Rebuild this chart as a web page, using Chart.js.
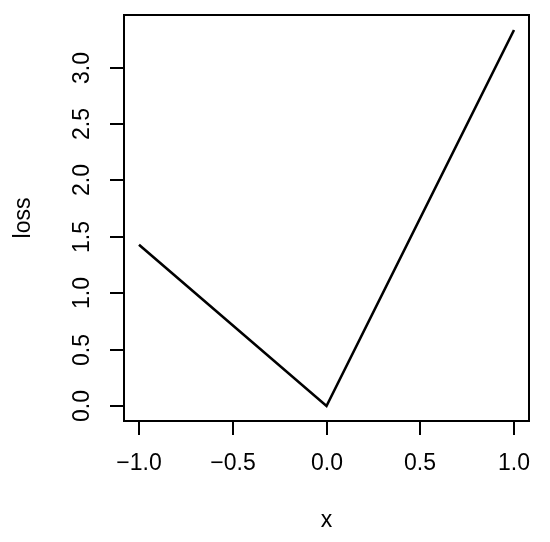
<!DOCTYPE html>
<html>
<head>
<meta charset="utf-8">
<script src="https://cdn.jsdelivr.net/npm/chart.js@4.4.0/dist/chart.umd.min.js"></script>
<style>
  html, body { margin: 0; padding: 0; background: #fff; }
  #wrap { width: 550px; height: 542px; position: relative; }
</style>
</head>
<body>
<div id="wrap"><canvas id="lossChart"></canvas></div>
<script>
// data: loss is x/0.3 above zero, -x/0.7 below
const xValues = [-1, 0, 1];
const lossValues = [1.4286, 0, 3.3333];
const xTicks = [-1, -0.5, 0, 0.5, 1];
const xTickLabels = ['\u22121.0', '\u22120.5', '0.0', '0.5', '1.0'];
const yTicks = [0, 0.5, 1, 1.5, 2, 2.5, 3];
const yTickLabels = ['0.0', '0.5', '1.0', '1.5', '2.0', '2.5', '3.0'];

const FONT = '"Liberation Sans", Arial, sans-serif';

// R style box, ticks and labels drawn on the chart's own scales
const rAxes = {
    id: 'rAxes',
    afterDraw(chart) {
        const ctx = chart.ctx;
        const a = chart.chartArea;
        const xs = chart.scales.x, ys = chart.scales.y;
        ctx.save();
        ctx.strokeStyle = '#000';
        ctx.lineWidth = 2;
        ctx.strokeRect(a.left, a.top, a.right - a.left, a.bottom - a.top);

        ctx.fillStyle = '#000';
        ctx.font = '23px ' + FONT;
        ctx.textAlign = 'center';
        ctx.textBaseline = 'middle';
        xTicks.forEach((v, i) => {
            const px = Math.round(xs.getPixelForValue(v));
            ctx.beginPath();
            ctx.moveTo(px, a.bottom);
            ctx.lineTo(px, a.bottom + 14);
            ctx.stroke();
            ctx.fillText(xTickLabels[i], px, 464);
        });
        yTicks.forEach((v, i) => {
            const py = Math.round(ys.getPixelForValue(v));
            ctx.beginPath();
            ctx.moveTo(a.left, py);
            ctx.lineTo(a.left - 14, py);
            ctx.stroke();
            ctx.save();
            ctx.translate(83, py);
            ctx.rotate(-Math.PI / 2);
            ctx.fillText(yTickLabels[i], 0, 0);
            ctx.restore();
        });

        ctx.fillText('x', (a.left + a.right) / 2, 521);
        ctx.save();
        ctx.translate(24, (a.top + a.bottom) / 2);
        ctx.rotate(-Math.PI / 2);
        ctx.fillText('loss', 0, 0);
        ctx.restore();
        ctx.restore();
    }
};

const points = xValues.map((x, i) => ({ x: x, y: lossValues[i] }));

new Chart(document.getElementById('lossChart'), {
    type: 'scatter',
    data: {
        datasets: [{
            data: points,
            showLine: true,
            borderColor: '#000',
            borderWidth: 2.6,
            pointRadius: 0,
            tension: 0
        }]
    },
    options: {
        responsive: true,
        maintainAspectRatio: false,
        animation: false,
        layout: { padding: { left: 124, top: 15, right: 21, bottom: 121 } },
        plugins: { legend: { display: false }, tooltip: { enabled: false } },
        scales: {
            x: { type: 'linear', min: -1.08, max: 1.08, display: false },
            y: { type: 'linear', min: -0.13333, max: 3.46667, display: false }
        }
    },
    plugins: [rAxes]
});
</script>
</body>
</html>
